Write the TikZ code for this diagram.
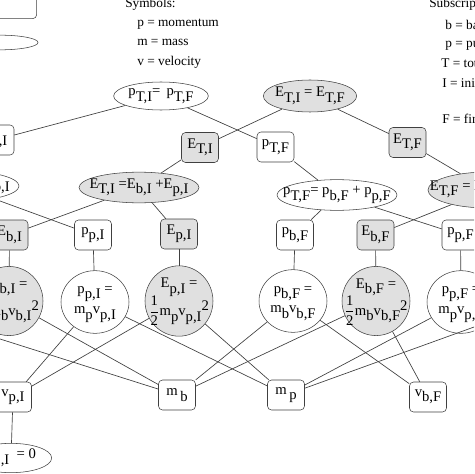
\documentclass[tikz,border=0pt]{standalone}
\usepackage{fontspec}
\setmainfont{Liberation Serif}
\usepackage{amsmath}
\usetikzlibrary{shapes.geometric}
\newcommand{\lo}[1]{\raisebox{-0.8ex}{#1}}
\newcommand{\hi}[1]{\raisebox{0.8ex}{#1}}
\newcommand{\half}{$\dfrac{\text{1}}{\text{2}}$}
\newcommand{\eqtext}[1]{\makebox[0pt]{#1}}
\newcommand{\lawtext}[2]{\makebox[0pt]{\begin{tabular}{@{}c@{}}#1\\[1pt]#2\end{tabular}}}

\begin{document}
\begin{tikzpicture}
[
    x=0.75pt, y=-0.75pt,
    font=\fontsize{11}{12.5}\selectfont,
    qbox/.style={draw=black!75, rounded corners=3pt, minimum width=27.75pt, minimum height=22.5pt, inner sep=1pt, fill=white},
    qboxg/.style={qbox, fill=black!12},
    eqn/.style={draw=black!75, ellipse, minimum width=90pt, minimum height=23pt, inner sep=0pt, fill=white},
    eqng/.style={eqn, fill=black!12},
    law/.style={draw=black!75, ellipse, minimum width=51pt, minimum height=47pt, inner sep=0pt, fill=white},
    lawg/.style={law, fill=black!12},
    link/.style={draw=black!75, line width=0.5pt},
    legend/.style={anchor=base west, inner sep=0pt, font=\fontsize{10}{12}\selectfont},
]
\clip (0,0) rectangle (474,474);
\node [qbox, minimum width=55pt, minimum height=25pt] (legbox) at (0,2) {};
\node [eqn, minimum width=57pt, minimum height=11pt] (legell) at (0,42.5) {};
\node [legend] (sym) at (125,8) {Symbols:};
\node [legend] (symp) at (137,27) {p = momentum};
\node [legend] (symm) at (137,46) {m = mass};
\node [legend] (symv) at (137,66) {v = velocity};
\node [legend] (sub) at (429,8) {Subscripts:};
\node [legend] (subb) at (445,30) {b = ball};
\node [legend] (subp) at (445,48) {p = puck};
\node [legend] (subT) at (441,68) {T = total};
\node [legend] (subI) at (442,88) {I = initial};
\node [legend] (subF) at (442,124) {F = final};

\node [eqn, minimum width=71pt, minimum height=21pt] (eP) at (161,96)
{\eqtext{p\lo{T,I}= \,p\lo{T,F}}};
\node [eqng, minimum width=70pt, minimum height=24pt] (eE) at (310,96)
{\eqtext{E\lo{T,I} = E\lo{T,F}}};

\node [qbox] (bpTI) at (-4.5,140) {p\lo{T,I}};
\node [qboxg] (bETI) at (200,147.5) {E\lo{T,I}};
\node [qbox] (bpTF) at (275.5,147) {p\lo{T,F}};
\node [qboxg] (bETF) at (407.5,142.5) {E\lo{T,F}};

\node [eqn] (epI) at (-41,186) {\eqtext{p\lo{T,I} = p\lo{b,I} + p\lo{p,I}}};
\node [eqng] (eEI) at (139,187.5) {\eqtext{E\lo{T,I} =E\lo{b,I} +E\lo{p,I}}};
\node [eqn] (epF) at (337,195) {\eqtext{p\lo{T,F}= p\lo{b,F} + p\lo{p,F}}};
\node [eqng, minimum height=27pt] (eEF) at (488,190) {\eqtext{E\lo{T,F} = E\lo{b,F} + E\lo{p,F}}};

\node [qbox] (bpbI) at (-120,235) {p\lo{b,I}};
\node [qboxg] (bEbI) at (9.5,235) {E\lo{b,I}};
\node [qbox] (bppI) at (93,235) {p\lo{p,I}};
\node [qboxg] (bEpI) at (179,234) {E\lo{p,I}};
\node [qbox] (bpbF) at (295,235) {p\lo{b,F}};
\node [qboxg] (bEbF) at (375.5,235) {E\lo{b,F}};
\node [qbox] (bppF) at (460.5,235) {p\lo{p,F}};
\node [qboxg] (bEpF) at (545,235) {E\lo{p,F}};

\node [law] (cpbI) at (-120,301) {\lawtext{p\lo{b,I} =}{m\lo{b}v\lo{b,I}}};
\node [lawg] (cEbI) at (9,301) {\lawtext{E\lo{b,I} =}{\half m\lo{b}v\lo{b,I}\hi{2}}};
\node [law] (cppI) at (95,302) {\lawtext{p\lo{p,I} =}{m\lo{p}v\lo{p,I}}};
\node [lawg] (cEpI) at (179,301) {\lawtext{E\lo{p,I} =}{\half m\lo{p}v\lo{p,I}\hi{2}}};
\node [law] (cpbF) at (293,301) {\lawtext{p\lo{b,F} =}{m\lo{b}v\lo{b,F}}};
\node [lawg] (cEbF) at (376,301) {\lawtext{E\lo{b,F} =}{\half m\lo{b}v\lo{b,F}\hi{2}}};
\node [law] (cppF) at (461,302) {\lawtext{p\lo{p,F} =}{m\lo{p}v\lo{p,F}}};
\node [lawg] (cEpF) at (546,301) {\lawtext{E\lo{p,F} =}{\half m\lo{p}v\lo{p,F}\hi{2}}};

\node [qbox] (bvbI) at (-150,397) {v\lo{b,I}};
\node [qbox] (bvpI) at (13,397) {v\lo{p,I}};
\node [qbox] (bmb) at (177,395) {m\,\lo{b}};
\node [qbox] (bmp) at (286,395) {m\,\lo{p}};
\node [qbox] (bvbF) at (428,397) {v\lo{b,F}};
\node [qbox] (bvpF) at (590,397) {v\lo{p,F}};

\node [eqn, minimum width=61pt, minimum height=22pt] (ev0) at (11,458) {\eqtext{v\lo{p,I}\ \ = 0}};

\draw [link] (eP) -- (bpTI);
\draw [link] (eP) -- (bpTF);
\draw [link] (eE) -- (bETI);
\draw [link] (eE) -- (bETF);
\draw [link] (bpTI) -- (epI);
\draw [link] (bETI) -- (eEI);
\draw [link] (bpTF) -- (epF);
\draw [link] (bETF) -- (eEF);
\draw [link] (epI) -- (bpbI);
\draw [link] (epI) -- (bppI);
\draw [link] (eEI) -- (bEbI);
\draw [link] (eEI) -- (bEpI);
\draw [link] (epF) -- (bpbF);
\draw [link] (epF) -- (bppF);
\draw [link] (eEF) -- (bEbF);
\draw [link] (eEF) -- (bEpF);
\foreach \b/\c in {bpbI/cpbI, bEbI/cEbI, bppI/cppI, bEpI/cEpI, bpbF/cpbF, bEbF/cEbF, bppF/cppF, bEpF/cEpF}
    \draw [link] (\b) -- (\c);
\foreach \c/\m/\v in {cpbI/bmb/bvbI, cEbI/bmb/bvbI, cppI/bmp/bvpI, cEpI/bmp/bvpI, cpbF/bmb/bvbF, cEbF/bmb/bvbF, cppF/bmp/bvpF, cEpF/bmp/bvpF}
{
    \draw [link] (\c) -- (\m);
    \draw [link] (\c) -- (\v);
}
\draw [link] (bvpI) -- (ev0);
\end{tikzpicture}
\end{document}
